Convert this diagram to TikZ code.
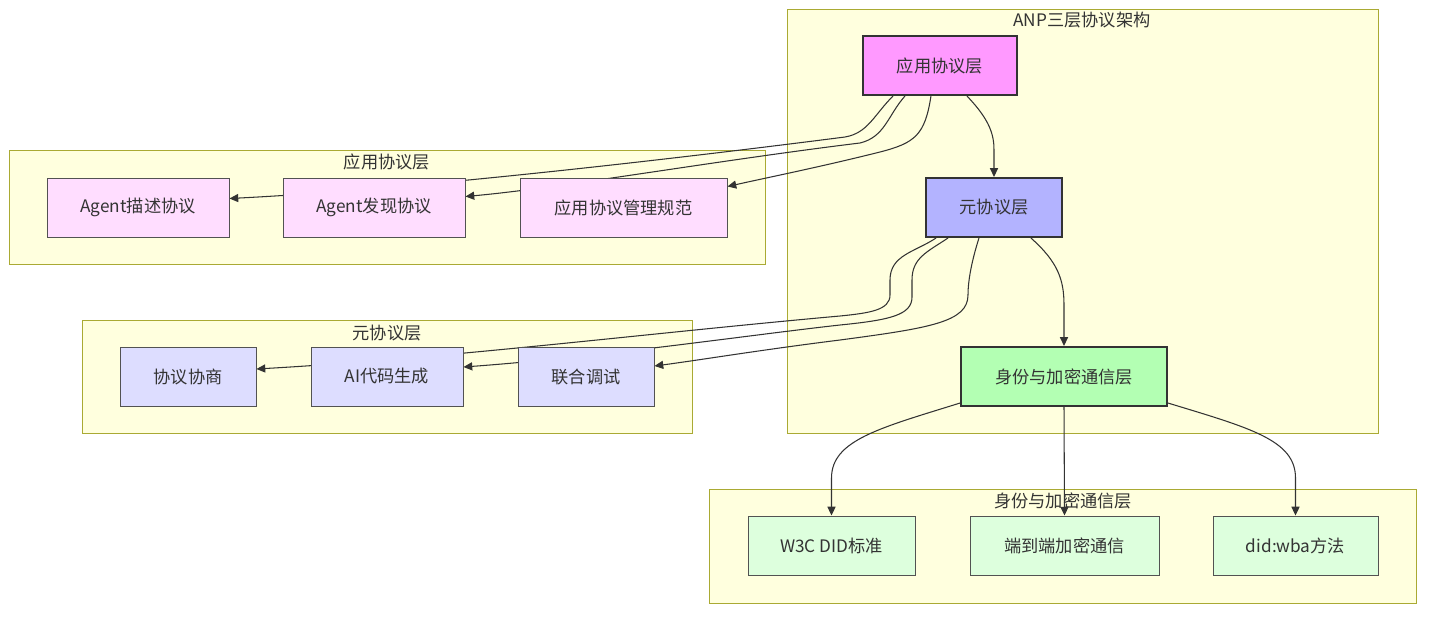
\documentclass[tikz,border=0pt]{standalone}
\usepackage{fontspec}
\setmainfont{Noto Sans CJK SC}
\usetikzlibrary{calc}
\usetikzlibrary{arrows.meta}
\definecolor{ink}{HTML}{333333}
\definecolor{grpfill}{HTML}{FFFFDE}
\definecolor{grpline}{HTML}{AAAA33}
\definecolor{appmain}{HTML}{FF99FF}
\definecolor{metamain}{HTML}{B3B3FF}
\definecolor{idmain}{HTML}{B3FFB3}
\definecolor{applight}{HTML}{FFDDFF}
\definecolor{metalight}{HTML}{DDDDFF}
\definecolor{idlight}{HTML}{DDFFDD}
\pgfdeclarelayer{back}
\pgfdeclarelayer{wires}
\pgfsetlayers{back,wires,main}
\tikzset{
    txt/.style     = {text=ink, font=\fontsize{9.8}{12}\selectfont},
    layerbox/.style= {txt, draw=ink, line width=1.2pt, minimum height=1.18cm, inner sep=0pt},
    itembox/.style = {txt, draw=ink!85, line width=0.55pt, minimum height=1.18cm, inner sep=0pt},
    group/.style   = {fill=grpfill, draw=grpline, line width=0.55pt},
    link/.style    = {draw=ink, line width=0.6pt, -{Triangle[length=5pt,width=4.6pt]}}
}
\begin{document}
\begin{tikzpicture}[x=0.02cm, y=-0.02cm]
            \useasboundingbox (0,0) rectangle (1440,619);
            % clusters
            \begin{pgfonlayer}{back}
            \fill[white] (0,0) rectangle (1440,619);
            \draw[group] ( 787,   9) rectangle (1378, 433);
            \draw[group] (   9, 150) rectangle ( 765, 264);
            \draw[group] (  82, 320) rectangle ( 692, 433);
            \draw[group] ( 709, 489) rectangle (1416, 603);
            \node[txt] (anpT)  at (1082,  20) {ANP三层协议架构};
            \node[txt] (appT)  at ( 387, 162) {应用协议层};
            \node[txt] (metaT) at ( 387, 333) {元协议层};
            \node[txt] (idT)   at (1063, 501) {身份与加密通信层};
            \end{pgfonlayer}
            % three layers
            \node[layerbox, fill=appmain,  minimum width=3.08cm] (app)   at ( 940,  65.5) {应用协议层};
            \node[layerbox, fill=metamain, minimum width=2.72cm] (meta)  at ( 994, 207.5) {元协议层};
            \node[layerbox, fill=idmain,   minimum width=4.12cm] (ident) at (1064, 376.5) {身份与加密通信层};
            % members
            \node[itembox, fill=applight,  minimum width=3.64cm] (desc)  at ( 138,   207.5) {Agent描述协议};
            \node[itembox, fill=applight,  minimum width=3.64cm] (disc)  at ( 374,   207.5) {Agent发现协议};
            \node[itembox, fill=applight,  minimum width=4.14cm] (mgmt)  at ( 623.5, 207.5) {应用协议管理规范};
            \node[itembox, fill=metalight, minimum width=2.72cm] (nego)  at ( 188,   376.5) {协议协商};
            \node[itembox, fill=metalight, minimum width=3.04cm] (code)  at ( 387,   376.5) {AI代码生成};
            \node[itembox, fill=metalight, minimum width=2.72cm] (debug) at ( 586,   376.5) {联合调试};
            \node[itembox, fill=idlight,   minimum width=3.34cm] (w3c)   at ( 831.5, 545.5) {W3C DID标准};
            \node[itembox, fill=idlight,   minimum width=3.78cm] (e2e)   at (1064.5, 545.5) {端到端加密通信};
            \node[itembox, fill=idlight,   minimum width=3.30cm] (wba)   at (1295.5, 545.5) {did:wba方法};
            % connectors
            \begin{pgfonlayer}{wires}
            \draw[link] ($(app.south west)+(31,0)$)  .. controls (874,115) and (868,133) .. (845,137)
                 .. controls (650,162) and (400,190) .. ($(desc.east)+(0,-9)$);
            \draw[link] ($(app.south west)+(43,0)$)  .. controls (888,115) and (885,137) .. (860,143)
                 .. controls (720,160) and (560,188) .. ($(disc.east)+(0,-11)$);
            \draw[link] ($(app.south west)+(69,0)$)  .. controls (925,135) and (915,143) .. (880,152)
                 .. controls (820,167) and (770,177) .. ($(mgmt.east)+(0,-21)$);
            \draw[link] ($(app.south west)+(105,0)$) .. controls (990,120) and (994,135) .. (994,150) -- (meta.north);
            \draw[link] ($(meta.south west)+(11,0)$) .. controls (915,252) and (890,255) .. (890,280) -- (890,295)
                 .. controls (890,310) and (870,313) .. (840,316)
                 .. controls (650,333) and (450,358) .. ($(nego.east)+(0,-7.5)$);
            \draw[link] ($(meta.south west)+(23,0)$) .. controls (927,252) and (912,258) .. (912,280) -- (912,297)
                 .. controls (912,315) and (890,320) .. (840,325)
                 .. controls (750,335) and (600,357) .. ($(code.east)+(0,-9.5)$);
            \draw[link] ($(meta.south west)+(54,0)$) .. controls (972,260) and (968,280) .. (968,295)
                 .. controls (968,322) and (930,328) .. (840,340)
                 .. controls (760,350) and (700,360) .. ($(debug.east)+(0,-10.5)$);
            \draw[link] ($(meta.south west)+(106,0)$) .. controls (1058,262) and (1064,280) .. (1064,305) -- (ident.north);
            \draw[link] ($(ident.south west)+(0,-4)$) .. controls (880,428) and (831.5,440) .. (831.5,478) -- (w3c.north);
            \draw[link] (ident.south) -- (e2e.north);
            \draw[link] ($(ident.south east)+(0,-4)$) .. controls (1250,428) and (1295.5,440) .. (1295.5,478) -- (wba.north);
            \end{pgfonlayer}
        \end{tikzpicture}
\end{document}
